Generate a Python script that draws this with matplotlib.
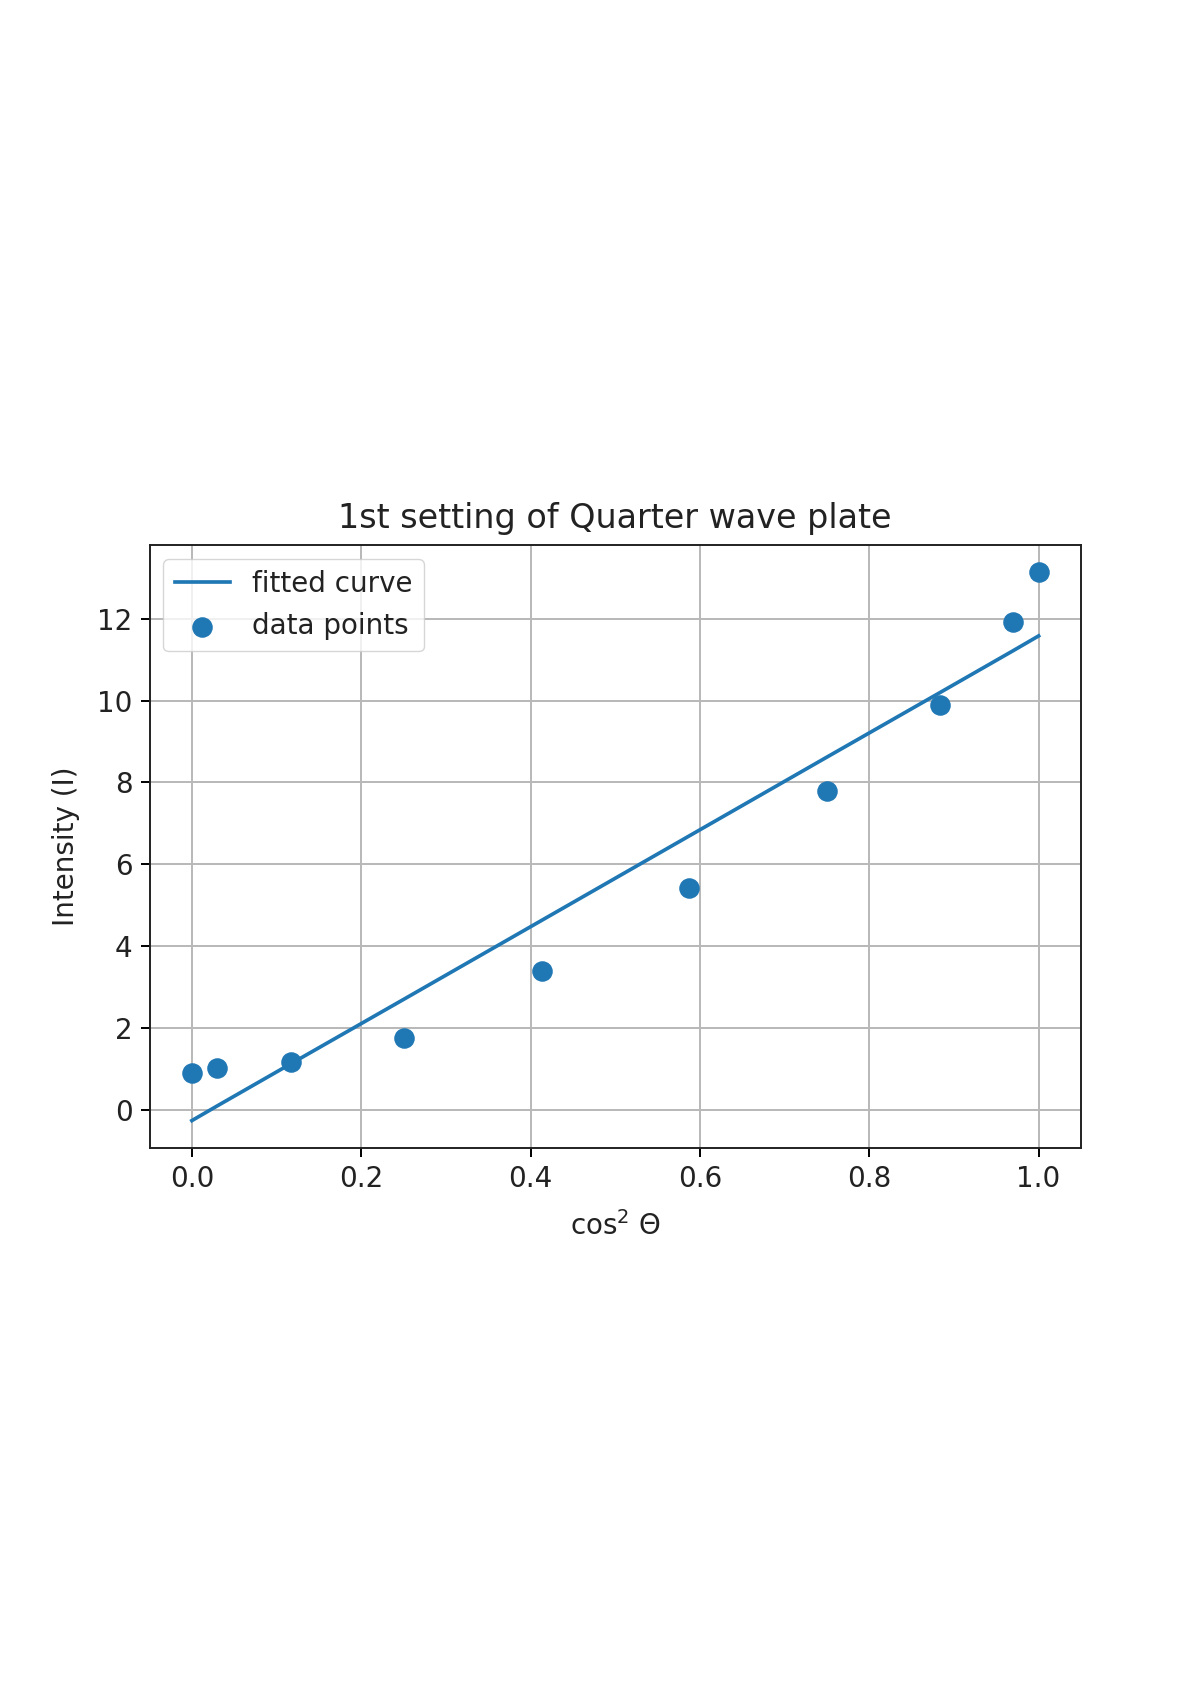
import numpy as np
import matplotlib.pyplot as plt

# cos^2(theta) values and measured intensity
cos2_theta = [0.0, 0.030, 0.117, 0.25, 0.413, 0.587, 0.75, 0.883, 0.970, 1.0]
intensity = [0.90, 1.03, 1.16, 1.77, 3.40, 5.43, 7.78, 9.89, 11.92, 13.13]
# fitted curve at the same x values
fitted = [-0.26, 0.10, 1.13, 2.70, 4.63, 6.69, 8.62, 10.19, 11.22, 11.58]

k = 1.76   # line scale against default sizes
kf = 2.0   # font scale

fig = plt.figure(figsize=(12, 16.98), dpi=100)
ax = fig.add_axes([0.1246, 0.3239, 0.7762, 0.3551])

ax.plot(cos2_theta, fitted, color='#1f77b4', linewidth=1.5*k, label='fitted curve', zorder=3)
ax.scatter(cos2_theta, intensity, color='#1f77b4', s=190, label='data points', zorder=4)

ax.set_title('1st setting of Quarter wave plate', fontsize=12*kf, pad=7*k, color='#222222')
ax.set_xlabel('cos$^2$ Θ', fontsize=10*kf, labelpad=7.5*k, color='#222222')
ax.set_ylabel('Intensity (I)', fontsize=10*kf, labelpad=7*k, color='#222222')
ax.set_xticks([0.0, 0.2, 0.4, 0.6, 0.8, 1.0])
ax.set_yticks([0, 2, 4, 6, 8, 10, 12])
ax.tick_params(labelsize=10*kf, length=3.5*k, width=0.8*k, pad=3.5*k, labelcolor='#222222')
for sp in ax.spines.values():
  sp.set_linewidth(0.8*k)
  sp.set_color('#222222')
ax.grid(True, color='#b8b8b8', linewidth=0.8*k)
ax.set_axisbelow(True)
ax.legend(loc='upper left', fontsize=10*kf, frameon=True, borderpad=0.4, handlelength=2.0, labelcolor='#222222')

plt.savefig('out.png', dpi=100)
plt.close()
